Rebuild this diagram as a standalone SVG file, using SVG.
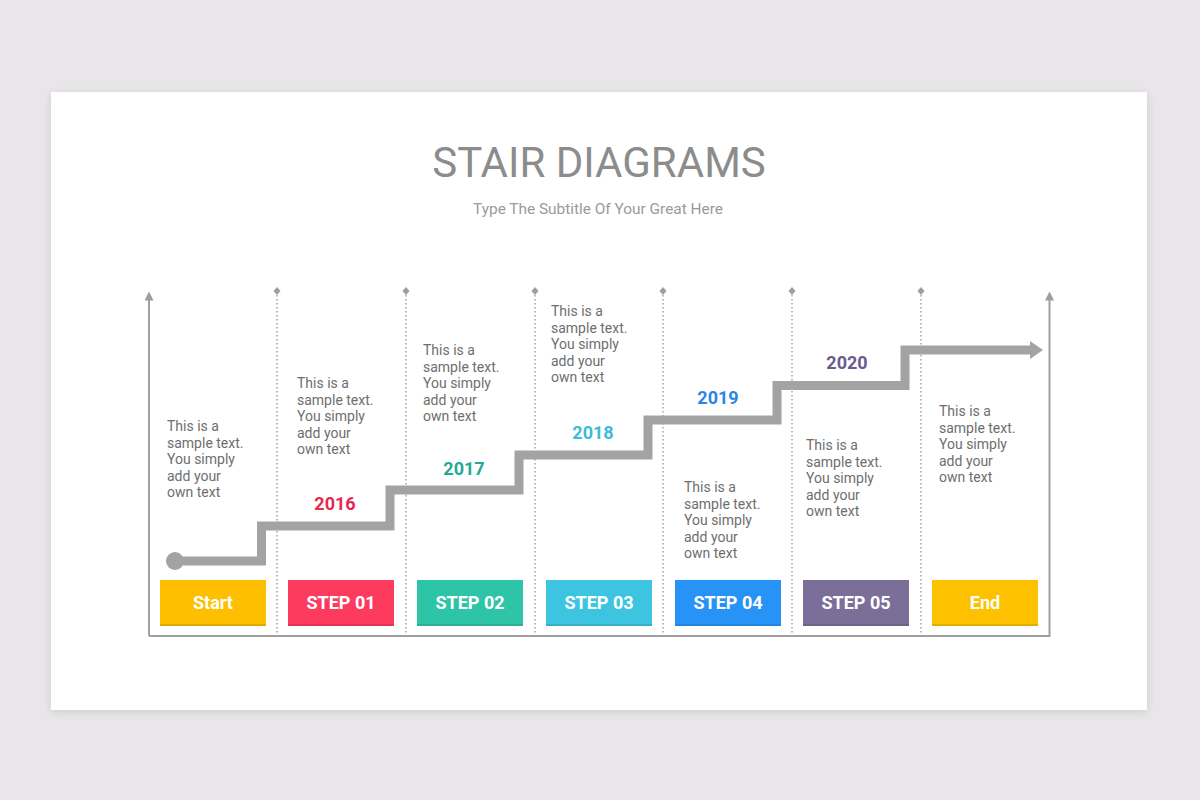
<svg xmlns="http://www.w3.org/2000/svg" width="1200" height="800" viewBox="0 0 1200 800">
  <defs>
    <filter id="shadow" x="-5%" y="-5%" width="110%" height="115%">
      <feGaussianBlur in="SourceAlpha" stdDeviation="4"/>
      <feOffset dx="0" dy="2"/>
      <feComponentTransfer><feFuncA type="linear" slope="0.12"/></feComponentTransfer>
      <feMerge><feMergeNode/><feMergeNode in="SourceGraphic"/></feMerge>
    </filter>
    <marker id="axisArrow" viewBox="0 0 10 10" refX="5" refY="5" markerWidth="9" markerHeight="9" markerUnits="userSpaceOnUse" orient="auto">
      <path d="M0,0 L10,5 L0,10 Z" fill="#9e9e9e"/>
    </marker>
    <style>
      .title { font-family: Roboto, "Liberation Sans", sans-serif; font-size: 42px; fill: #8c8c8c; text-anchor: middle; }
      .subtitle { font-family: Roboto, "Liberation Sans", sans-serif; font-size: 15.4px; fill: #9a9a9a; text-anchor: middle; }
      .body { font-family: Roboto, "Liberation Sans", sans-serif; font-size: 14px; fill: #6e6e6e; }
      .year { font-family: Roboto, "Liberation Sans", sans-serif; font-size: 18px; font-weight: bold; text-anchor: middle; }
      .label { font-family: Roboto, "Liberation Sans", sans-serif; font-size: 18px; font-weight: bold; fill: #ffffff; text-anchor: middle; }
      .axis { stroke: #a0a0a0; stroke-width: 2; fill: none; }
      .dots { stroke: #a6a6a6; stroke-width: 1.5; stroke-dasharray: 1.5 2.5; fill: none; }
      .diamond { fill: #9e9e9e; }
      .stair { stroke: #a3a3a3; stroke-width: 9; fill: none; stroke-linejoin: miter; }
      .edge { fill: #000; opacity: 0.1; }
    </style>
  </defs>

  <rect x="0" y="0" width="1200" height="800" fill="#e8e6e8"/>
  <rect x="51" y="92" width="1096" height="618" fill="#ffffff" filter="url(#shadow)"/>

  <g id="title">
    <text class="title" x="599" y="177">STAIR DIAGRAMS</text>
    <text class="subtitle" x="598" y="214">Type The Subtitle Of Your Great Here</text>
  </g>

  <g id="connectors">
    <path class="axis" d="M149,636 L149,296" marker-end="url(#axisArrow)"/>
    <path class="axis" d="M149,636 L1049.5,636 L1049.5,296" marker-end="url(#axisArrow)"/>
    <line class="dots" x1="277" y1="291" x2="277" y2="635"/>
    <line class="dots" x1="406" y1="291" x2="406" y2="635"/>
    <line class="dots" x1="535" y1="291" x2="535" y2="635"/>
    <line class="dots" x1="663" y1="291" x2="663" y2="635"/>
    <line class="dots" x1="792" y1="291" x2="792" y2="635"/>
    <line class="dots" x1="921" y1="291" x2="921" y2="635"/>
    <path class="diamond" d="M277,287 L280.5,291 L277,295 L273.5,291 Z"/>
    <path class="diamond" d="M406,287 L409.5,291 L406,295 L402.5,291 Z"/>
    <path class="diamond" d="M535,287 L538.5,291 L535,295 L531.5,291 Z"/>
    <path class="diamond" d="M663,287 L666.5,291 L663,295 L659.5,291 Z"/>
    <path class="diamond" d="M792,287 L795.5,291 L792,295 L788.5,291 Z"/>
    <path class="diamond" d="M921,287 L924.5,291 L921,295 L917.5,291 Z"/>
    <circle cx="175" cy="561" r="9" fill="#a3a3a3"/>
    <path class="stair" d="M175,561 L261.5,561 L261.5,526 L390,526 L390,490 L519,490 L519,455 L648,455 L648,420 L777,420 L777,385.5 L905,385.5 L905,350 L1031,350"/>
    <path d="M1030,341 L1043,350 L1030,359 Z" fill="#a3a3a3"/>
  </g>

  <g id="start">
    <rect x="160" y="580" width="106" height="46" fill="#fdbf00"/>
    <rect class="edge" x="160" y="624" width="106" height="2"/>
    <text class="label" x="213" y="609">Start</text>
    <text class="body" x="167" y="431">This is a<tspan x="167" dy="16.5">sample text.</tspan><tspan x="167" dy="16.5">You simply</tspan><tspan x="167" dy="16.5">add your</tspan><tspan x="167" dy="16.5">own text</tspan></text>
  </g>

  <g id="step01">
    <rect x="288" y="580" width="106" height="46" fill="#fd3b5f"/>
    <rect class="edge" x="288" y="624" width="106" height="2"/>
    <text class="label" x="341" y="609">STEP 01</text>
    <text class="year" x="335" y="510" fill="#e5294f">2016</text>
    <text class="body" x="297" y="388">This is a<tspan x="297" dy="16.5">sample text.</tspan><tspan x="297" dy="16.5">You simply</tspan><tspan x="297" dy="16.5">add your</tspan><tspan x="297" dy="16.5">own text</tspan></text>
  </g>

  <g id="step02">
    <rect x="417" y="580" width="106" height="46" fill="#2ec4a8"/>
    <rect class="edge" x="417" y="624" width="106" height="2"/>
    <text class="label" x="470" y="609">STEP 02</text>
    <text class="year" x="464" y="475" fill="#26a898">2017</text>
    <text class="body" x="423" y="355">This is a<tspan x="423" dy="16.5">sample text.</tspan><tspan x="423" dy="16.5">You simply</tspan><tspan x="423" dy="16.5">add your</tspan><tspan x="423" dy="16.5">own text</tspan></text>
  </g>

  <g id="step03">
    <rect x="546" y="580" width="106" height="46" fill="#3dc4e0"/>
    <rect class="edge" x="546" y="624" width="106" height="2"/>
    <text class="label" x="599" y="609">STEP 03</text>
    <text class="year" x="593" y="439" fill="#3bbcd8">2018</text>
    <text class="body" x="551" y="316">This is a<tspan x="551" dy="16.5">sample text.</tspan><tspan x="551" dy="16.5">You simply</tspan><tspan x="551" dy="16.5">add your</tspan><tspan x="551" dy="16.5">own text</tspan></text>
  </g>

  <g id="step04">
    <rect x="675" y="580" width="106" height="46" fill="#2893f7"/>
    <rect class="edge" x="675" y="624" width="106" height="2"/>
    <text class="label" x="728" y="609">STEP 04</text>
    <text class="year" x="718" y="404" fill="#2a86e6">2019</text>
    <text class="body" x="684" y="492">This is a<tspan x="684" dy="16.5">sample text.</tspan><tspan x="684" dy="16.5">You simply</tspan><tspan x="684" dy="16.5">add your</tspan><tspan x="684" dy="16.5">own text</tspan></text>
  </g>

  <g id="step05">
    <rect x="803" y="580" width="106" height="46" fill="#7b6f99"/>
    <rect class="edge" x="803" y="624" width="106" height="2"/>
    <text class="label" x="856" y="609">STEP 05</text>
    <text class="year" x="847" y="369" fill="#6a5b8d">2020</text>
    <text class="body" x="806" y="450">This is a<tspan x="806" dy="16.5">sample text.</tspan><tspan x="806" dy="16.5">You simply</tspan><tspan x="806" dy="16.5">add your</tspan><tspan x="806" dy="16.5">own text</tspan></text>
  </g>

  <g id="end">
    <rect x="932" y="580" width="106" height="46" fill="#fdc100"/>
    <rect class="edge" x="932" y="624" width="106" height="2"/>
    <text class="label" x="985" y="609">End</text>
    <text class="body" x="939" y="416">This is a<tspan x="939" dy="16.5">sample text.</tspan><tspan x="939" dy="16.5">You simply</tspan><tspan x="939" dy="16.5">add your</tspan><tspan x="939" dy="16.5">own text</tspan></text>
  </g>
</svg>
